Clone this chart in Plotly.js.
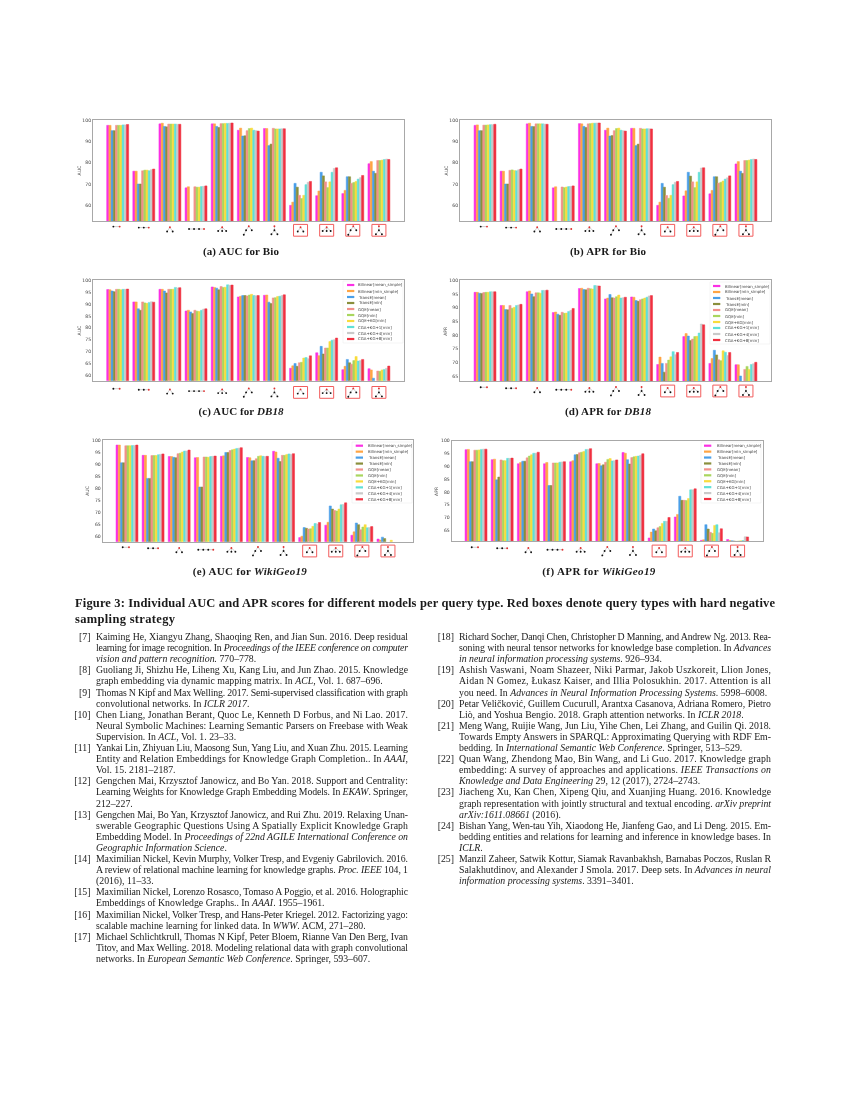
<!DOCTYPE html>
<html><head><meta charset="utf-8">
<script src="https://cdn.plot.ly/plotly-3.0.1.min.js"></script>
<style>
html,body{margin:0;padding:0;background:#fff;}
#page{position:relative;width:850px;height:1100px;overflow:hidden;background:#fff;}
#plot{position:absolute;left:0;top:0;width:850px;height:1100px;filter:blur(0.5px);}
#plot .barlayer path{shape-rendering:geometricPrecision !important;}
.t{position:absolute;font-family:"Liberation Serif",serif;color:#1a1a1a;white-space:nowrap;filter:blur(0.3px);}
.cap{font-weight:bold;font-size:11px;transform:translateX(-50%);}
.ref{font-size:9.8px;line-height:11px;}
.lab{font-size:9.8px;line-height:11px;text-align:right;width:24px;}
.fig{font-weight:bold;font-size:12.5px;line-height:15px;}
</style></head><body>
<div id="page"><div id="plot"></div></div>
<script>
const categories=["2-chain","3-chain","2-inter","4-chain","3-inter","3-inter-chain","chain-inter","hard 2-inter","hard 3-inter","hard 3-inter-chain","hard chain-inter"];
const glyphKinds=["2c","3c","2i","4c","3i","3ic","ci","2i","3i","3ic","ci"];
const models=["Bilinear[mean_simple]","Bilinear[min_simple]","TransE[mean]","TransE[min]","GQE[mean]","GQE[min]","GQE+KG[min]","CGA+KG+1[min]","CGA+KG+4[min]","CGA+KG+8[min]"];
const colors=["#fb2fe4","#ffa544","#4a9fe8","#8a8f3c","#f2908a","#a9d65e","#f9dc3c","#5fe0d8","#c9c9c9","#f03040"];

const aucBio=[
[97.5,97.5,95,95,97.5,97.5,97.5,97.7,97.7,97.9],
[76,76,70,70,76.2,76.5,76.5,76.2,76.7,77],
[98.2,98.5,97,96.8,98.1,98.1,98.1,98.1,98,98],
[68.2,68.7,null,null,68.7,68.5,68.5,68.8,68.9,69.1],
[98.2,98.2,97,96.5,98.3,98.3,98.4,98.4,98.5,98.6],
[95.2,96.2,92.5,92.6,95,96,96.2,95.2,95,94.8],
[96,96,88,88.7,96.1,95.8,95.8,95.8,95.9,95.9],
[60,61.5,70.3,68.5,64.7,63.2,64.7,69.7,70.8,71.2],
[64.5,66.7,75.5,73.8,71,68.3,71,75.5,77.3,77.6],
[65.5,67,73.4,73.4,70.3,70.7,71.2,72.3,73,74],
[79.5,80.5,76,75,81,81,81.2,81.5,81.7,81.5]];
const aprBio=[
[97.5,97.7,95,95,97.6,97.6,97.7,97.8,97.8,98],
[76,76,70,70,76.4,76.6,76.3,76.2,76.7,77],
[98.2,98.5,97,96.9,98.2,98.2,98.2,98.2,98.1,98],
[68.2,68.7,null,null,68.6,68.3,68.6,68.8,68.9,69.1],
[98.3,98.2,97,96.5,98.2,98.3,98.5,98.5,98.6,98.6],
[95.2,96.2,92.5,92.7,95,96,96.2,95.2,95,94.8],
[96.1,96.1,88,88.7,96.1,95.8,95.8,95.9,95.9,95.8],
[60,61.5,70.3,68.5,64.6,63.3,64.7,69.7,70.8,71.2],
[64.4,66.8,75.5,73.7,71,68.3,71,75.5,77.5,77.6],
[65.4,67,73.4,73.4,70.4,70.8,71.4,72.3,72.9,73.8],
[79.4,80.5,76,75,81,81,81.2,81.5,81.7,81.5]];
const aucDb=[
[96.1,96,95.5,95.2,96.2,96.2,96,96.2,96.2,96.3],
[90.9,90.9,88,87.4,90.9,90.5,90.3,90.7,91,90.8],
[96.2,96.2,95.5,94.7,96.2,96.2,96.2,97,96.8,96.9],
[87.1,87.4,86.7,86,87.4,87,86.9,87.4,87.9,88],
[97.2,97,96.7,96,97.4,97,97.1,98.1,97.9,98],
[93,93.3,93.6,93.6,93.4,93.8,94.1,93.6,93.5,93.6],
[93.7,93.8,90.8,90.2,92.6,92.7,93.2,93.3,93.6,93.9],
[63,64,65,63.8,65.3,65.5,67.3,67.5,67,68.2],
[69.5,68.3,72.2,69,71.5,71.5,74.2,74.8,75,75.7],
[62.4,63.8,66.7,65.3,64.7,66.2,67.9,66,66.2,66.7],
[62.8,62.3,58.8,null,61.8,61.7,62.3,62.5,63,63.9]];
const aprDb=[
[95.6,95.6,95.3,95.2,95.5,95.6,95.6,95.8,95.8,95.8],
[90.8,90.8,89.3,89.2,90.8,89.8,90.1,90.8,91,91.2],
[95.8,96.1,95,94,95.4,95.4,95.3,96.3,96.3,96.4],
[88.2,88.4,87.6,87.2,88.3,87.9,88,88.6,89,89.7],
[97,97.1,96.6,96.5,97.1,96.9,96.8,98.1,98,97.9],
[93.2,93.5,94.8,93.6,93.5,94,94.6,93.5,93.6,93.8],
[93.9,93.8,92.6,92.3,92.9,93.2,93.5,93.8,94.3,94.4],
[69.2,71.9,69.6,66.4,69.6,70.8,72,73.9,72.8,73.6],
[79.4,80.5,79.6,78,78.5,79.4,79.5,80.7,84,83.7],
[69.6,71.4,74.4,72.7,70.9,70.6,74.2,73.7,72.5,73.6],
[69.1,69.1,65,null,67.4,68.5,67.4,69.2,69.5,70]];
const aucWiki=[
[97.9,97.9,90.5,90.5,97.6,97.6,97.6,97.7,97.7,97.9],
[93.6,93.6,84,84,93.5,93.5,93.5,93.9,94,94.2],
[93.1,93.1,92.8,92.6,94.3,94.5,95,95.4,95.4,95.8],
[92.6,92.7,80.4,80.4,92.9,92.9,92.8,93.1,93.2,93.3],
[93.2,93.4,94.8,94.8,95.6,95.9,96.2,96.5,96.6,96.8],
[92.7,92.6,91.3,91.4,92.2,93.2,93.4,93.2,93.1,93.2],
[95.3,95,92.4,91,93.6,93.6,94,94.2,94,94.3],
[59.3,59.9,63.5,63.2,62.9,63,64,65.2,65,65.6],
[64.5,65.7,72.5,71.2,70.6,70.4,71.2,73,73.1,73.8],
[60.3,61.7,65.4,64.7,62.6,63.7,64.7,63.4,63.5,63.9],
[58.7,58.3,59.5,58.9,null,null,58.2,null,null,null]];
const aprWiki=[
[96.5,96.6,91.8,91.8,96.3,96.3,96.4,96.6,96.7,96.7],
[92.6,92.8,84.7,85.8,92.5,92.2,92.2,93.1,93.1,93.2],
[91,91.5,92,92,93.3,94,94.5,95.1,95.1,95.5],
[91,91.5,82.5,82.5,91.3,91.3,91.3,91.6,91.7,91.8],
[91.8,92.2,94.5,94.6,95.3,95.5,95.8,96.6,96.6,96.9],
[91,91.1,90.2,90.6,91.6,92.7,93,92.1,92.2,92.5],
[95.4,95.1,92.6,90.9,93.4,93.7,93.9,94,94.3,94.9],
[62,64.3,65.5,64.8,66,66.5,67.7,68.5,68.5,70],
[70.2,71.2,78.3,76.7,76.7,76.6,77.4,80.8,80.8,81.2],
[61.1,61.3,67.2,65.5,64.2,63.8,66.9,67.2,64,65.6],
[61.4,61,60.9,60.8,60.7,60.8,60.9,61,62.5,62.4]];

const panels=[
{v:aucBio,name:"AUC",L:93,R:404,T:120,B:221,x0:-0.944,x1:10.96,ymin:52.65,ticks:[60,70,80,90,100],tx:79,icon:3.3,leg:null},
{v:aprBio,name:"AUC",L:460,R:771,T:120,B:221,x0:-0.958,x1:10.96,ymin:52.65,ticks:[60,70,80,90,100],tx:446,icon:3.3,leg:null},
{v:aucDb,name:"AUC",L:93,R:404,T:280.3,B:380.7,x0:-0.944,x1:10.96,ymin:57.75,ticks:[60,65,70,75,80,85,90,95,100],tx:79,icon:5.7,leg:{sx:347,tx:357,y0:285,y1:339,b:[343,403,281,343]}},
{v:aprDb,name:"APR",L:460,R:771,T:280.3,B:381.3,x0:-0.958,x1:10.96,ymin:63.05,ticks:[65,70,75,80,85,90,95,100],tx:446,icon:3.7,leg:{sx:713,tx:724,y0:286,y1:340,b:[710,770,282,344]}},
{v:aucWiki,name:"AUC",L:102.7,R:413,T:440,B:541.7,x0:-0.931,x1:10.96,ymin:57.6,ticks:[60,65,70,75,80,85,90,95,100],tx:88,icon:3.3,leg:{sx:355.7,tx:366.7,y0:445.7,y1:499.3,b:[352,412,442,503]}},
{v:aprWiki,name:"APR",L:451.7,R:762.7,T:440.7,B:541.3,x0:-0.93,x1:10.96,ymin:60.7,ticks:[65,70,75,80,85,90,95,100],tx:437,icon:3.7,leg:{sx:704,tx:716,y0:445.7,y1:499,b:[701,761,442,503]}}
];

const glyphs={
"2c":{n:[[-4.3,3.7],[2,3.7,1]],e:[[0,1]]},
"3c":{n:[[-5,2.7],[0,2.7],[5,2.7,1]],e:[[0,1],[1,2]]},
"4c":{n:[[-7,1.3],[-2,1.3],[3,1.3],[8,1.3,1]],e:[[0,1],[1,2],[2,3]]},
"2i":{n:[[0,3,1],[-2.8,-1.2],[2.8,-1.2]],e:[[0,1],[0,2]]},
"3i":{n:[[0,3,1],[-4,-0.7],[0,-0.7],[4,-0.7]],e:[[0,1],[0,2],[0,3]]},
"3ic":{n:[[0.5,4,1],[-2.2,0],[3.5,0],[-4.5,-4.4]],e:[[0,1],[0,2],[1,3]]},
"ci":{n:[[0,4,1],[0,0],[-3,-4],[3,-4]],e:[[0,1],[1,2],[1,3]]}
};

const W=850,H=1100;
const px=x=>x/W, py=y=>1-y/H;
const layout={width:W,height:H,margin:{l:0,r:0,t:0,b:0},paper_bgcolor:"#fff",plot_bgcolor:"#fff",
  barmode:"group",bargap:0.16,bargroupgap:0,showlegend:false,shapes:[],annotations:[],hovermode:false};
const traces=[];
panels.forEach((p,k)=>{
  const s=k===0?"":String(k+1), xa="x"+s, ya="y"+s;
  models.forEach((m,j)=>traces.push({type:"bar",name:m,x:categories,y:p.v.map(g=>g[j]),xaxis:xa,yaxis:ya,
    marker:{color:colors[j],line:{width:0.5,color:colors[j]}},hoverinfo:"skip"}));
  const axBase={showgrid:false,zeroline:false,showline:true,mirror:true,linecolor:"#a8a8a8",linewidth:1};
  layout["xaxis"+s]=Object.assign({},axBase,{type:"category",domain:[px(p.L),px(p.R)],range:[p.x0,p.x1],showticklabels:false,ticks:"",anchor:ya,categoryorder:"array",categoryarray:categories});
  layout["yaxis"+s]=Object.assign({},axBase,{domain:[py(p.B),py(p.T)],range:[p.ymin,100],tickvals:p.ticks,ticktext:p.ticks.map(String),ticks:"",
    tickfont:{size:4.6,family:"DejaVu Sans",color:"#444"},anchor:xa});
  layout.annotations.push({xref:"paper",yref:"paper",x:px(p.tx),y:py((p.T+p.B)/2),text:p.name,textangle:-90,showarrow:false,
    font:{size:4.6,family:"DejaVu Sans",color:"#444"},xanchor:"center",yanchor:"middle"});
  const yA=py(p.B), base=-(p.icon+6);
  categories.forEach((c,i)=>{
    const g=glyphs[glyphKinds[i]];
    const sh=(o)=>Object.assign({xref:xa,yref:"paper",xsizemode:"pixel",ysizemode:"pixel",xanchor:c,yanchor:yA},o);
    if(i>=7) layout.shapes.push(sh({type:"rect",x0:-7,x1:7,y0:base-5.9,y1:base+5.9,line:{color:"#f25c5c",width:1},fillcolor:"rgba(0,0,0,0)"}));
    g.e.forEach(e=>{const a=g.n[e[0]],b=g.n[e[1]];
      layout.shapes.push(sh({type:"line",x0:a[0],x1:b[0],y0:base+a[1],y1:base+b[1],line:{color:"#888",width:0.4}}));});
    g.n.forEach(n=>{
      const col=n[2]?"#e03030":"#111";
      layout.shapes.push(sh({type:"circle",x0:n[0]-0.95,x1:n[0]+0.95,y0:base+n[1]-0.95,y1:base+n[1]+0.95,fillcolor:col,line:{width:0}}));});
  });
  if(p.leg){
    const q=p.leg;
    layout.shapes.push({type:"rect",xref:"paper",yref:"paper",x0:px(q.b[0]),x1:px(q.b[1]),y0:py(q.b[3]),y1:py(q.b[2]),fillcolor:"#fff",line:{color:"#e8e8e8",width:0.5}});
    models.forEach((m,j)=>{
      const y=q.y0+(q.y1-q.y0)*j/9;
      layout.shapes.push({type:"rect",xref:"paper",yref:"paper",x0:px(q.sx),x1:px(q.sx+7.3),y0:py(y+1.1),y1:py(y-1.1),fillcolor:colors[j],line:{width:0}});
      layout.annotations.push({xref:"paper",yref:"paper",x:px(q.tx),y:py(y),text:m,showarrow:false,xanchor:"left",yanchor:"middle",
        font:{size:3.95,family:"DejaVu Sans",color:"#444"},xshift:-1});
    });
  }
});

const captions=[
["(a) AUC for Bio",241,245,76],["(b) APR for Bio",608,245,76],
["(c) AUC for <i>DB18</i>",241,405,85],["(d) APR for <i>DB18</i>",608,405,86],
["(e) AUC for <i>WikiGeo19</i>",250,565,114],["(f) APR for <i>WikiGeo19</i>",599,565,113]];
const figLines=["Figure 3: Individual AUC and APR scores for different models per query type. Red boxes denote query types with hard negative","sampling strategy"];
const leftRefs=[
["[7]",["Kaiming He, Xiangyu Zhang, Shaoqing Ren, and Jian Sun. 2016. Deep residual","learning for image recognition. In <i>Proceedings of the IEEE conference on computer</i>","<i>vision and pattern recognition.</i> 770–778."]],
["[8]",["Guoliang Ji, Shizhu He, Liheng Xu, Kang Liu, and Jun Zhao. 2015. Knowledge","graph embedding via dynamic mapping matrix. In <i>ACL</i>, Vol. 1. 687–696."]],
["[9]",["Thomas N Kipf and Max Welling. 2017. Semi-supervised classification with graph","convolutional networks. In <i>ICLR 2017</i>."]],
["[10]",["Chen Liang, Jonathan Berant, Quoc Le, Kenneth D Forbus, and Ni Lao. 2017.","Neural Symbolic Machines: Learning Semantic Parsers on Freebase with Weak","Supervision. In <i>ACL</i>, Vol. 1. 23–33."]],
["[11]",["Yankai Lin, Zhiyuan Liu, Maosong Sun, Yang Liu, and Xuan Zhu. 2015. Learning","Entity and Relation Embeddings for Knowledge Graph Completion.. In <i>AAAI</i>,","Vol. 15. 2181–2187."]],
["[12]",["Gengchen Mai, Krzysztof Janowicz, and Bo Yan. 2018. Support and Centrality:","Learning Weights for Knowledge Graph Embedding Models. In <i>EKAW</i>. Springer,","212–227."]],
["[13]",["Gengchen Mai, Bo Yan, Krzysztof Janowicz, and Rui Zhu. 2019. Relaxing Unan-","swerable Geographic Questions Using A Spatially Explicit Knowledge Graph","Embedding Model. In <i>Proceedings of 22nd AGILE International Conference on</i>","<i>Geographic Information Science</i>."]],
["[14]",["Maximilian Nickel, Kevin Murphy, Volker Tresp, and Evgeniy Gabrilovich. 2016.","A review of relational machine learning for knowledge graphs. <i>Proc. IEEE</i> 104, 1","(2016), 11–33."]],
["[15]",["Maximilian Nickel, Lorenzo Rosasco, Tomaso A Poggio, et al. 2016. Holographic","Embeddings of Knowledge Graphs.. In <i>AAAI</i>. 1955–1961."]],
["[16]",["Maximilian Nickel, Volker Tresp, and Hans-Peter Kriegel. 2012. Factorizing yago:","scalable machine learning for linked data. In <i>WWW</i>. ACM, 271–280."]],
["[17]",["Michael Schlichtkrull, Thomas N Kipf, Peter Bloem, Rianne Van Den Berg, Ivan","Titov, and Max Welling. 2018. Modeling relational data with graph convolutional","networks. In <i>European Semantic Web Conference</i>. Springer, 593–607."]]];
const rightRefs=[
["[18]",["Richard Socher, Danqi Chen, Christopher D Manning, and Andrew Ng. 2013. Rea-","soning with neural tensor networks for knowledge base completion. In <i>Advances</i>","<i>in neural information processing systems</i>. 926–934."]],
["[19]",["Ashish Vaswani, Noam Shazeer, Niki Parmar, Jakob Uszkoreit, Llion Jones,","Aidan N Gomez, Łukasz Kaiser, and Illia Polosukhin. 2017. Attention is all","you need. In <i>Advances in Neural Information Processing Systems</i>. 5998–6008."]],
["[20]",["Petar Veličković, Guillem Cucurull, Arantxa Casanova, Adriana Romero, Pietro","Liò, and Yoshua Bengio. 2018. Graph attention networks. In <i>ICLR 2018</i>."]],
["[21]",["Meng Wang, Ruijie Wang, Jun Liu, Yihe Chen, Lei Zhang, and Guilin Qi. 2018.","Towards Empty Answers in SPARQL: Approximating Querying with RDF Em-","bedding. In <i>International Semantic Web Conference</i>. Springer, 513–529."]],
["[22]",["Quan Wang, Zhendong Mao, Bin Wang, and Li Guo. 2017. Knowledge graph","embedding: A survey of approaches and applications. <i>IEEE Transactions on</i>","<i>Knowledge and Data Engineering</i> 29, 12 (2017), 2724–2743."]],
["[23]",["Jiacheng Xu, Kan Chen, Xipeng Qiu, and Xuanjing Huang. 2016. Knowledge","graph representation with jointly structural and textual encoding. <i>arXiv preprint</i>","<i>arXiv:1611.08661</i> (2016)."]],
["[24]",["Bishan Yang, Wen-tau Yih, Xiaodong He, Jianfeng Gao, and Li Deng. 2015. Em-","bedding entities and relations for learning and inference in knowledge bases. In","<i>ICLR</i>."]],
["[25]",["Manzil Zaheer, Satwik Kottur, Siamak Ravanbakhsh, Barnabas Poczos, Ruslan R","Salakhutdinov, and Alexander J Smola. 2017. Deep sets. In <i>Advances in neural</i>","<i>information processing systems</i>. 3391–3401."]]];

const page=document.getElementById("page");
function add(cls,html,left,top){const d=document.createElement("div");d.className="t "+cls;d.innerHTML=html;
  d.style.left=left+"px";d.style.top=top+"px";page.appendChild(d);return d;}
function fit(d,target){const w=d.getBoundingClientRect().width;const n=d.textContent.length-1;
  d.style.letterSpacing=((target-w)/n).toFixed(4)+"px";}
captions.forEach(c=>fit(add("cap",c[0],c[1],c[2]),c[3]));
fit(add("fig",figLines[0],75,596),700);
fit(add("fig",figLines[1],75,612),100);
function refs(list,labRight,textLeft,textW){
  let n=0;
  list.forEach(r=>{
    add("lab",r[0],labRight-24,631+n*11.1);
    r[1].forEach((ln,i)=>{
      const d=add("ref",ln,textLeft,631+n*11.1);
      if(i<r[1].length-1) fit(d,textW);
      n++;
    });
  });
}
refs(leftRefs,90.5,96,312);
refs(rightRefs,454,459,312);
Plotly.newPlot("plot",traces,layout,{displayModeBar:false,staticPlot:true});
</script>
</body></html>
